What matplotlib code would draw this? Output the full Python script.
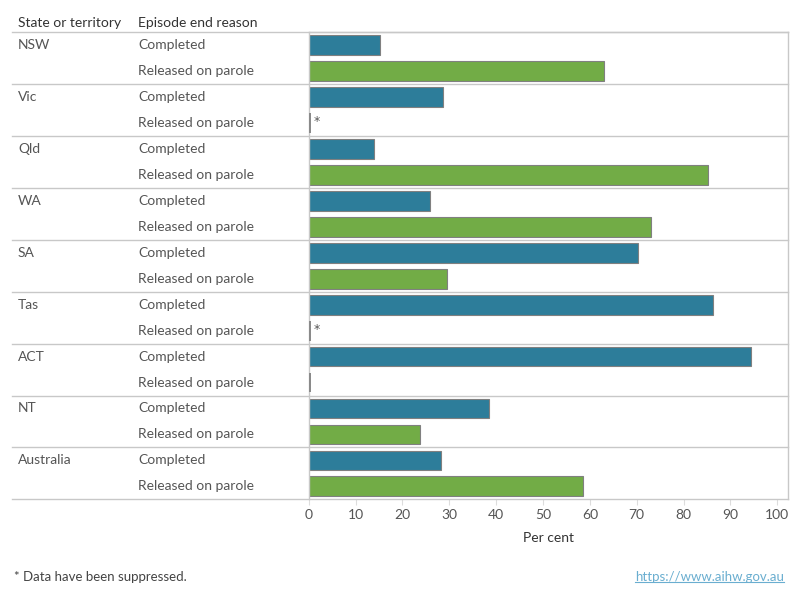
import matplotlib
matplotlib.use("Agg")
import matplotlib.pyplot as plt
import matplotlib.transforms as mtransforms
from matplotlib.lines import Line2D
import numpy as np

plt.rcParams['font.family'] = ['Lato', 'DejaVu Sans']

# data (per cent); None = suppressed
states = ["NSW", "Vic", "Qld", "WA", "SA", "Tas", "ACT", "NT", "Australia"]
reasons = ["Completed", "Released on parole"]
completed = [15.2, 28.6, 13.9, 25.9, 70.3, 86.3, 94.4, 38.5, 28.2]
parole = [63.0, None, 85.2, 73.1, 29.5, None, 0.0, 23.8, 58.5]

teal = "#2d7d9a"
green = "#72ac46"
grid = "#c8c8c8"
txt = "#555555"

fig = plt.figure(figsize=(8, 6), dpi=100)
ax = fig.add_axes([308.7 / 800, 1 - 499.3 / 600, (787.7 - 308.7) / 800, (499.3 - 32.3) / 600])

n = len(states)
for i in range(n):
    yc = 2 * i
    yp = 2 * i + 1
    ax.barh(yc, completed[i], height=0.76, color=teal, edgecolor="#808080", linewidth=0.8)
    val = parole[i]
    if val is None or val == 0:
        # zero / suppressed shown as a thin grey stub
        ax.barh(yp, 0.45, height=0.76, color="#8a8a8a", linewidth=0, zorder=5)
        if val is None:
            ax.text(1.0, yp - 0.05, "*", ha="left", va="center", fontsize=9,
                    color=txt, family="DejaVu Sans")
    else:
        ax.barh(yp, val, height=0.76, color=green, edgecolor="#808080", linewidth=0.8)

ax.set_xlim(0, (787.7 - 308.7) / 4.686)
ax.set_ylim(2 * n - 0.5, -0.5)
ax.set_yticks([])
ax.set_xticks(np.arange(0, 101, 10))
ax.tick_params(axis="x", length=4, color="#dddddd", labelcolor=txt, labelsize=10, pad=3)
for s in ax.spines.values():
    s.set_color(grid)
    s.set_linewidth(1)
ax.spines["bottom"].set_visible(False)
ax.set_xlabel("Per cent", fontsize=10, color="#333333", labelpad=8)

# table text and separators
tr = mtransforms.blended_transform_factory(fig.transFigure, ax.transData)
x0 = 12 / 800
x1 = 787.7 / 800
for i in range(n + 1):
    fig.add_artist(Line2D([x0, x1], [2 * i - 0.5, 2 * i - 0.5], transform=tr, color=grid, lw=1))
for i, st in enumerate(states):
    fig.text(18 / 800, 2 * i, st, transform=tr, ha="left", va="center", fontsize=10, color=txt)
    for j, r in enumerate(reasons):
        fig.text(138 / 800, 2 * i + j, r, transform=tr, ha="left", va="center", fontsize=10, color=txt)

fig.text(18 / 800, 1 - 23 / 600, "State or territory", ha="left", va="center", fontsize=10, color="#333333")
fig.text(138 / 800, 1 - 23 / 600, "Episode end reason", ha="left", va="center", fontsize=10, color="#333333")

fig.text(14 / 800, 1 - 577 / 600, "* Data have been suppressed.", ha="left", va="center", fontsize=9.5, color="#444444")
url = fig.text(784 / 800, 1 - 577 / 600, "https://www.aihw.gov.au", ha="right", va="center", fontsize=9.5, color="#6aaed0")

fig.canvas.draw()
bb = url.get_window_extent().transformed(fig.transFigure.inverted())
fig.add_artist(Line2D([bb.x0, bb.x1], [bb.y0 + 0.002, bb.y0 + 0.002], transform=fig.transFigure,
                      color="#6aaed0", lw=0.8))

fig.savefig("out.png", dpi=100)
